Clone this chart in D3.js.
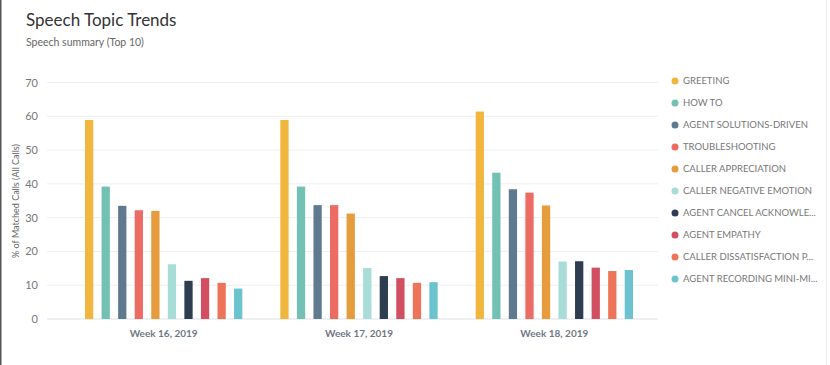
<!DOCTYPE html>
<html>
<head>
<meta charset="utf-8">
<script src="https://cdn.jsdelivr.net/npm/d3@7"></script>
<style>
  body { margin: 0; background: #fff; }
  #chart { width: 830px; height: 365px; }
  text { font-family: Lato, "Open Sans", sans-serif; }
</style>
</head>
<body>
<div id="chart"></div>
<script>
// Speech topic trends, grouped bars per week

const weeks = ["Week 16, 2019", "Week 17, 2019", "Week 18, 2019"];
const topics = ["GREETING", "HOW TO", "AGENT SOLUTIONS-DRIVEN", "TROUBLESHOOTING",
  "CALLER APPRECIATION", "CALLER NEGATIVE EMOTION", "AGENT CANCEL ACKNOWLE...",
  "AGENT EMPATHY", "CALLER DISSATISFACTION P...", "AGENT RECORDING MINI-MI..."];
const colors = ["#f0b63d", "#72c1b3", "#5f7a8f", "#ec6c64", "#e69b3c",
  "#a8dcd6", "#2e3e50", "#d24f62", "#ee7459", "#6bc3cf"];
const week16 = [58.9, 39.2, 33.5, 32.2, 32.0, 16.2, 11.3, 12.1, 10.7, 9.0];
const week17 = [58.9, 39.2, 33.7, 33.7, 31.2, 15.1, 12.7, 12.1, 10.7, 10.9];
const week18 = [61.4, 43.3, 38.4, 37.4, 33.6, 17.0, 17.1, 15.2, 14.2, 14.5];
const yTicks = [0, 10, 20, 30, 40, 50, 60, 70];

const series = [week16, week17, week18];
const width = 830, height = 365;

const svg = d3.select("#chart").append("svg")
  .attr("width", width)
  .attr("height", height);

// frame edges like the screenshot
svg.append("rect").attr("x", 0).attr("y", 0).attr("width", 1.5).attr("height", height).attr("fill", "#555");
svg.append("rect").attr("x", 826).attr("y", 0).attr("width", 1).attr("height", height).attr("fill", "#eee");

// title
svg.append("text")
  .attr("x", 26).attr("y", 26)
  .attr("font-size", 17)
  .attr("fill", "#333")
  .text("Speech Topic Trends");
svg.append("text")
  .attr("x", 26).attr("y", 46)
  .attr("font-size", 10.5)
  .attr("fill", "#666")
  .text("Speech summary (Top 10)");

// scales
const y = d3.scaleLinear().domain([0, 70]).range([319, 82.5]);
const x0 = d3.scaleBand().domain(weeks).range([66, 652]).padding(0);
const x1 = d3.scaleBand().domain(topics)
  .range([19, x0.bandwidth() - 19]).paddingInner(0.5).paddingOuter(0);

// gridlines
svg.append("g").selectAll("line")
  .data(yTicks)
  .enter().append("line")
  .attr("x1", 47).attr("x2", 658)
  .attr("y1", d => y(d)).attr("y2", d => y(d))
  .attr("stroke", d => d === 0 ? "#dde1e6" : "#eceef1")
  .attr("stroke-width", 1);

// y axis labels
const yAxis = svg.append("g")
  .attr("transform", "translate(44,0)")
  .call(d3.axisLeft(y).tickValues(yTicks).tickSize(0).tickPadding(6));
yAxis.select(".domain").remove();
yAxis.selectAll("text")
  .attr("font-family", "Lato, sans-serif")
  .attr("font-size", 11)
  .attr("fill", "#777");

svg.append("text")
  .attr("transform", "translate(19,201) rotate(-90)")
  .attr("text-anchor", "middle")
  .attr("font-size", 9)
  .attr("fill", "#666")
  .text("% of Matched Calls (All Calls)");

// x axis labels
const xAxis = svg.append("g")
  .attr("transform", "translate(0,330)")
  .call(d3.axisBottom(x0).tickSize(0).tickPadding(0));
xAxis.select(".domain").remove();
xAxis.selectAll("text")
  .attr("font-family", "Lato, sans-serif")
  .attr("font-size", 10)
  .attr("font-weight", "bold")
  .attr("fill", "#707784");

// bars
const groups = svg.append("g").selectAll("g")
  .data(weeks)
  .enter().append("g")
  .attr("transform", d => "translate(" + x0(d) + ",0)");

groups.selectAll("rect")
  .data((w, i) => topics.map((t, j) => ({topic: t, value: series[i][j], color: colors[j]})))
  .enter().append("rect")
  .attr("x", d => x1(d.topic))
  .attr("y", d => y(d.value))
  .attr("width", x1.bandwidth())
  .attr("height", d => y(0) - y(d.value))
  .attr("fill", d => d.color);

// legend
const legend = svg.append("g").selectAll("g")
  .data(topics)
  .enter().append("g")
  .attr("transform", (d, i) => "translate(675," + (81 + i * 22) + ")");
legend.append("circle")
  .attr("r", 3.5)
  .attr("fill", (d, i) => colors[i]);
legend.append("text")
  .attr("x", 8)
  .attr("dy", "0.35em")
  .attr("font-size", 9.5)
  .attr("fill", "#777")
  .text(d => d);
</script>
</body>
</html>
